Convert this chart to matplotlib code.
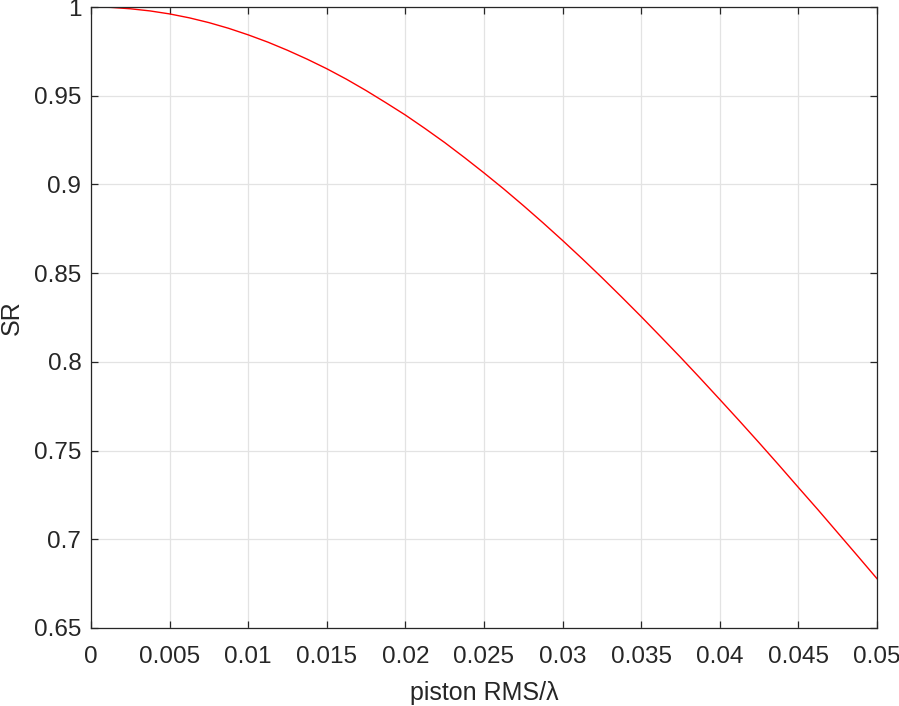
import numpy as np
import matplotlib
matplotlib.use("Agg")
import matplotlib.pyplot as plt

plt.rcParams['font.family'] = ['Liberation Sans', 'DejaVu Sans']

# piston RMS / lambda and Strehl ratio
piston = [0, 0.00125, 0.0025, 0.00375, 0.005, 0.00625, 0.0075, 0.00875, 0.01, 0.01125,
          0.0125, 0.01375, 0.015, 0.01625, 0.0175, 0.01875, 0.02, 0.02125, 0.0225, 0.02375,
          0.025, 0.02625, 0.0275, 0.02875, 0.03, 0.03125, 0.0325, 0.03375, 0.035, 0.03625,
          0.0375, 0.03875, 0.04, 0.04125, 0.0425, 0.04375, 0.045, 0.04625, 0.0475, 0.04875, 0.05]
sr = [1.0000, 0.9998, 0.9990, 0.9978, 0.9961, 0.9939, 0.9912, 0.9880, 0.9843, 0.9802,
      0.9756, 0.9706, 0.9652, 0.9593, 0.9529, 0.9461, 0.9391, 0.9315, 0.9236, 0.9152,
      0.9065, 0.8975, 0.8881, 0.8784, 0.8684, 0.8581, 0.8475, 0.8366, 0.8255, 0.8141,
      0.8026, 0.7908, 0.7788, 0.7667, 0.7544, 0.7419, 0.7292, 0.7166, 0.7037, 0.6908, 0.6778]

xticks = [0, 0.005, 0.01, 0.015, 0.02, 0.025, 0.03, 0.035, 0.04, 0.045, 0.05]
xticklabels = ["0", "0.005", "0.01", "0.015", "0.02", "0.025", "0.03", "0.035", "0.04", "0.045", "0.05"]
yticks = [0.65, 0.7, 0.75, 0.8, 0.85, 0.9, 0.95, 1]
yticklabels = ["0.65", "0.7", "0.75", "0.8", "0.85", "0.9", "0.95", "1"]

fig = plt.figure(figsize=(8.99, 7.06), dpi=100)
ax = fig.add_axes([91 / 899, 1 - 628 / 706, (877 - 91) / 899, (628 - 7) / 706])

ax.plot(piston, sr, color="red", linewidth=1.0)

ax.set_xlim(0, 0.05)
ax.set_ylim(0.65, 1)
ax.set_xticks(xticks)
ax.set_xticklabels(xticklabels)
ax.set_yticks(yticks)
ax.set_yticklabels(yticklabels)

ax.grid(True, color="#e3e3e3", linewidth=0.9)
ax.set_axisbelow(True)
for s in ax.spines.values():
    s.set_color("#262626")
    s.set_linewidth(0.9)
ax.tick_params(direction="in", top=True, right=True, length=5, width=0.9,
               color="#262626", labelsize=17.5, labelcolor="#262626")
ax.tick_params(axis="x", pad=13)
ax.tick_params(axis="y", pad=7)

ax.set_xlabel("piston RMS/λ", fontsize=18, color="#262626", labelpad=9)
ax.set_ylabel("SR", fontsize=18, color="#262626", labelpad=7)

fig.savefig("out.png", dpi=100)
